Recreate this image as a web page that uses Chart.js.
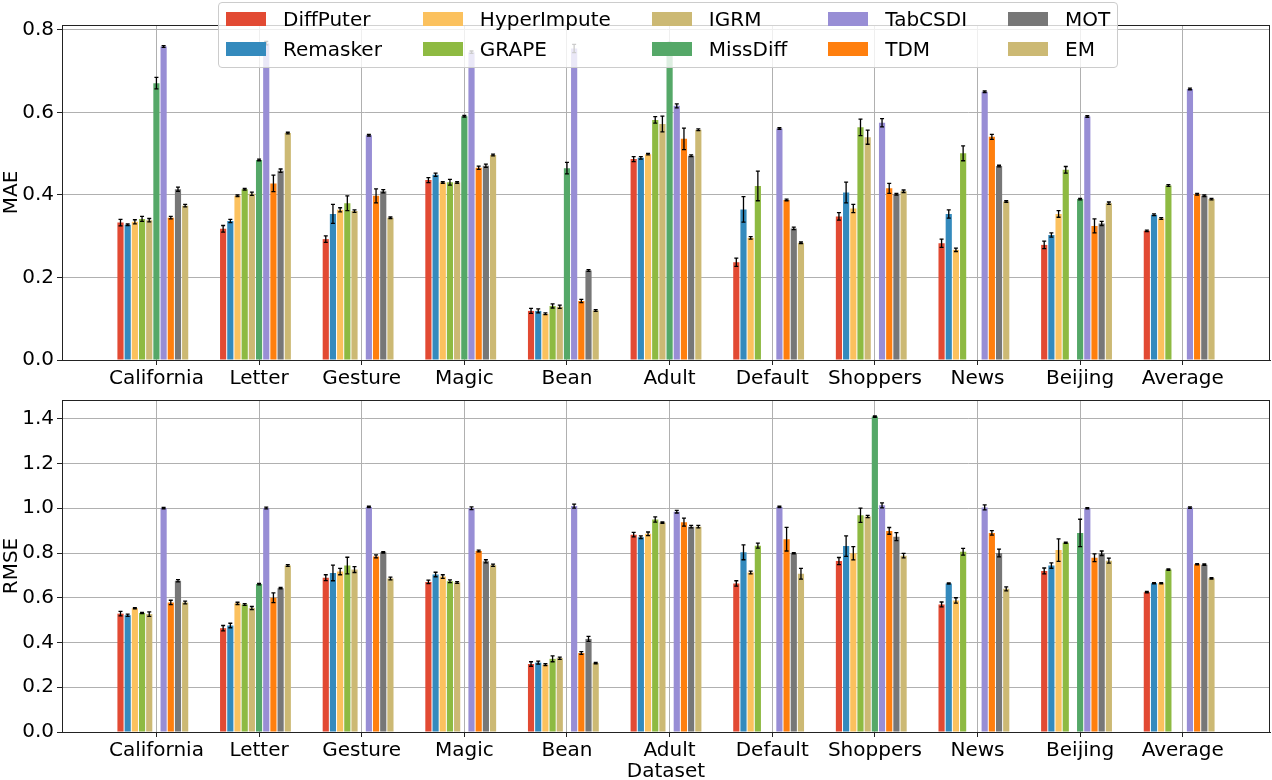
<!DOCTYPE html>
<html lang="en">
<head>
<meta charset="UTF-8">
<title>MAE / RMSE by dataset</title>
<script src="https://cdn.jsdelivr.net/npm/chart.js@4.4.1/dist/chart.umd.min.js"></script>
<style>
  body { margin: 0; background: #fff; }
  .page { position: relative; width: 1272px; height: 780px; overflow: hidden; }
  .panel { position: absolute; left: 0; width: 1272px; }
  #top { top: 0; height: 390px; }
  #bottom { top: 385px; height: 395px; }
  .legend {
    position: absolute; left: 218px; top: 2px; z-index: 2;
    display: grid; grid-template-rows: 24px 24px; grid-auto-flow: column;
    column-gap: 41px; row-gap: 6px; padding: 4px 7px 6px 7px;
    background: rgba(255, 255, 255, 0.8); border: 1px solid #cccccc; border-radius: 4px;
    font: 20px "DejaVu Sans", sans-serif; color: #000;
  }
  .legend-item { display: flex; align-items: center; white-space: nowrap; line-height: 24px; }
  .legend-swatch { width: 40px; height: 14px; margin-right: 17px; }
</style>
</head>
<body>
<div class="page">
  <div class="legend" id="legend"></div>
  <div class="panel" id="top"><canvas id="mae"></canvas></div>
  <div class="panel" id="bottom"><canvas id="rmse"></canvas></div>
</div>

<script>
  const datasets = ['California', 'Letter', 'Gesture', 'Magic', 'Bean', 'Adult', 'Default', 'Shoppers', 'News', 'Beijing', 'Average'];
  const methods = ['DiffPuter', 'Remasker', 'HyperImpute', 'GRAPE', 'IGRM', 'MissDiff', 'TabCSDI', 'TDM', 'MOT', 'EM'];
  const colors = ['#E24A33', '#348ABD', '#FBC15E', '#8EBA42', '#CCB974', '#55A868', '#988ED5', '#FF7F0E', '#777777', '#CCB974'];

  const maeTicks = [0, 0.2, 0.4, 0.6, 0.8];
  const rmseTicks = [0, 0.2, 0.4, 0.6, 0.8, 1.0, 1.2, 1.4];

  // MAE, one array per method (null = not reported)
  const maeDiffPuter   = [0.333, 0.318, 0.293, 0.436, 0.119, 0.487, 0.237, 0.348, 0.283, 0.279, 0.313];
  const maeRemasker    = [0.328, 0.337, 0.354, 0.449, 0.119, 0.490, 0.365, 0.406, 0.354, 0.303, 0.352];
  const maeHyperImpute = [0.335, 0.398, 0.364, 0.430, 0.112, 0.499, 0.296, 0.367, 0.267, 0.354, 0.343];
  const maeGRAPE       = [0.342, 0.414, 0.380, 0.431, 0.131, 0.582, 0.422, 0.564, 0.501, 0.461, 0.423];
  const maeIGRM        = [0.339, 0.403, 0.361, 0.430, 0.129, 0.572, null, 0.540, null, null, null];
  const maeMissDiff    = [0.671, 0.485, null, 0.591, 0.465, 0.760, null, null, null, 0.390, null];
  const maeTabCSDI     = [0.760, 0.768, 0.545, 0.746, 0.755, 0.616, 0.561, 0.575, 0.650, 0.590, 0.657];
  const maeTDM         = [0.345, 0.428, 0.398, 0.466, 0.143, 0.536, 0.388, 0.416, 0.541, 0.325, 0.402];
  const maeMOT         = [0.414, 0.459, 0.409, 0.471, 0.217, 0.495, 0.319, 0.402, 0.470, 0.331, 0.398];
  const maeEM          = [0.374, 0.550, 0.345, 0.497, 0.120, 0.558, 0.284, 0.409, 0.384, 0.380, 0.390];

  // MAE std (error bar half length)
  const maeErrDiffPuter   = [0.008, 0.008, 0.008, 0.006, 0.006, 0.006, 0.010, 0.009, 0.010, 0.009, 0.002];
  const maeErrRemasker    = [0.002, 0.004, 0.023, 0.004, 0.005, 0.003, 0.031, 0.025, 0.010, 0.005, 0.002];
  const maeErrHyperImpute = [0.005, 0.002, 0.005, 0.002, 0.002, 0.002, 0.003, 0.010, 0.004, 0.008, 0.002];
  const maeErrGRAPE       = [0.006, 0.002, 0.018, 0.007, 0.005, 0.008, 0.036, 0.020, 0.018, 0.008, 0.002];
  const maeErrIGRM        = [0.004, 0.004, 0.003, 0.002, 0.004, 0.019, null, 0.017, null, null, null];
  const maeErrMissDiff    = [0.014, 0.002, null, 0.002, 0.014, 0.010, null, null, null, 0.002, null];
  const maeErrTabCSDI     = [0.002, 0.004, 0.002, 0.003, 0.010, 0.005, 0.002, 0.010, 0.002, 0.002, 0.002];
  const maeErrTDM         = [0.003, 0.020, 0.017, 0.004, 0.004, 0.026, 0.002, 0.012, 0.006, 0.017, 0.002];
  const maeErrMOT         = [0.005, 0.004, 0.004, 0.004, 0.002, 0.002, 0.003, 0.002, 0.002, 0.005, 0.002];
  const maeErrEM          = [0.003, 0.002, 0.002, 0.002, 0.002, 0.002, 0.002, 0.003, 0.002, 0.003, 0.002];

  // RMSE
  const rmseDiffPuter   = [0.529, 0.464, 0.690, 0.671, 0.304, 0.882, 0.664, 0.764, 0.570, 0.720, 0.625];
  const rmseRemasker    = [0.522, 0.476, 0.711, 0.704, 0.310, 0.871, 0.803, 0.831, 0.664, 0.744, 0.665];
  const rmseHyperImpute = [0.553, 0.575, 0.717, 0.695, 0.301, 0.886, 0.713, 0.799, 0.588, 0.813, 0.665];
  const rmseGRAPE       = [0.532, 0.570, 0.744, 0.674, 0.327, 0.950, 0.833, 0.969, 0.806, 0.846, 0.726];
  const rmseIGRM        = [0.527, 0.554, 0.726, 0.668, 0.330, 0.936, null, 0.963, null, null, null];
  const rmseMissDiff    = [null, 0.661, null, null, null, null, null, 1.410, null, 0.890, null];
  const rmseTabCSDI     = [1.001, 1.001, 1.006, 1.000, 1.010, 0.985, 1.006, 1.013, 1.004, 1.000, 1.003];
  const rmseTDM         = [0.579, 0.600, 0.785, 0.809, 0.353, 0.938, 0.862, 0.899, 0.890, 0.779, 0.750];
  const rmseMOT         = [0.676, 0.643, 0.803, 0.763, 0.416, 0.918, 0.799, 0.873, 0.800, 0.799, 0.748];
  const rmseEM          = [0.579, 0.744, 0.686, 0.745, 0.308, 0.918, 0.707, 0.788, 0.640, 0.766, 0.687];

  const rmseErrDiffPuter   = [0.010, 0.012, 0.013, 0.008, 0.010, 0.010, 0.012, 0.016, 0.011, 0.013, 0.003];
  const rmseErrRemasker    = [0.005, 0.010, 0.035, 0.010, 0.007, 0.006, 0.033, 0.046, 0.003, 0.012, 0.003];
  const rmseErrHyperImpute = [0.003, 0.005, 0.014, 0.008, 0.004, 0.008, 0.006, 0.030, 0.012, 0.050, 0.003];
  const rmseErrGRAPE       = [0.003, 0.004, 0.037, 0.006, 0.013, 0.012, 0.011, 0.032, 0.015, 0.003, 0.003];
  const rmseErrIGRM        = [0.010, 0.007, 0.013, 0.004, 0.005, 0.003, null, 0.005, null, null, null];
  const rmseErrMissDiff    = [null, 0.003, null, null, null, null, null, 0.003, null, 0.061, null];
  const rmseErrTabCSDI     = [0.003, 0.004, 0.003, 0.006, 0.009, 0.006, 0.003, 0.011, 0.011, 0.003, 0.003];
  const rmseErrTDM         = [0.010, 0.022, 0.007, 0.004, 0.006, 0.018, 0.053, 0.015, 0.010, 0.017, 0.003];
  const rmseErrMOT         = [0.005, 0.003, 0.003, 0.007, 0.011, 0.006, 0.003, 0.018, 0.017, 0.010, 0.003];
  const rmseErrEM          = [0.006, 0.004, 0.006, 0.005, 0.003, 0.006, 0.024, 0.010, 0.009, 0.011, 0.003];

  const maeValues = [maeDiffPuter, maeRemasker, maeHyperImpute, maeGRAPE, maeIGRM, maeMissDiff, maeTabCSDI, maeTDM, maeMOT, maeEM];
  const maeErrors = [maeErrDiffPuter, maeErrRemasker, maeErrHyperImpute, maeErrGRAPE, maeErrIGRM, maeErrMissDiff, maeErrTabCSDI, maeErrTDM, maeErrMOT, maeErrEM];
  const rmseValues = [rmseDiffPuter, rmseRemasker, rmseHyperImpute, rmseGRAPE, rmseIGRM, rmseMissDiff, rmseTabCSDI, rmseTDM, rmseMOT, rmseEM];
  const rmseErrors = [rmseErrDiffPuter, rmseErrRemasker, rmseErrHyperImpute, rmseErrGRAPE, rmseErrIGRM, rmseErrMissDiff, rmseErrTabCSDI, rmseErrTDM, rmseErrMOT, rmseErrEM];

  const barStep = 0.07; // bar i sits at dataset index + (i - 5) * barStep

  // legend, column-major like the original
  const legend = document.getElementById('legend');
  methods.forEach((m, i) => {
    const item = document.createElement('div');
    item.className = 'legend-item';
    item.innerHTML = `<span class="legend-swatch" style="background:${colors[i]}"></span><span>${m}</span>`;
    legend.appendChild(item);
  });

  const errorBars = {
    id: 'errorBars',
    afterDatasetsDraw(chart) {
      const ctx = chart.ctx;
      const yScale = chart.scales.y;
      ctx.save();
      ctx.strokeStyle = '#000';
      ctx.lineWidth = 1.3;
      chart.data.datasets.forEach((ds, i) => {
        chart.getDatasetMeta(i).data.forEach((bar, j) => {
          const v = ds.data[j].y;
          const e = ds.errors[j];
          if (v == null || e == null) return;
          const y1 = yScale.getPixelForValue(v - e);
          const y2 = yScale.getPixelForValue(v + e);
          ctx.beginPath();
          ctx.moveTo(bar.x, y1); ctx.lineTo(bar.x, y2);
          ctx.moveTo(bar.x - 2, y1); ctx.lineTo(bar.x + 2, y1);
          ctx.moveTo(bar.x - 2, y2); ctx.lineTo(bar.x + 2, y2);
          ctx.stroke();
        });
      });
      ctx.restore();
    }
  };

  const frame = {
    id: 'frame',
    afterDraw(chart) {
      const { left, top, right, bottom } = chart.chartArea;
      const ctx = chart.ctx;
      ctx.save();
      ctx.strokeStyle = '#222';
      ctx.lineWidth = 1;
      ctx.strokeRect(Math.round(left) + 0.5, Math.round(top) + 0.5, Math.round(right - left) - 1, Math.round(bottom - top));
      ctx.restore();
    }
  };

  function drawchart(canvasId, values, errors, yTicks, yMax, yTitle, xTitle, padTop, xHeight) {
    const config = {
      type: 'bar',
      data: {
        datasets: methods.map((m, i) => ({
          label: m,
          data: datasets.map((d, j) => ({ x: j + (i - 5) * barStep, y: values[i][j] })),
          errors: errors[i],
          backgroundColor: colors[i],
          borderWidth: 0,
          grouped: false,
          barPercentage: 0.86,
          categoryPercentage: 1
        }))
      },
      options: {
        responsive: true,
        maintainAspectRatio: false,
        animation: false,
        layout: { padding: { top: padTop, right: 2, left: 0, bottom: 0 } },
        plugins: {
          legend: { display: false },
          tooltip: { enabled: false }
        },
        scales: {
          x: {
            type: 'linear',
            min: -0.92,
            max: 10.85,
            offset: false,
            afterBuildTicks: (axis) => { axis.ticks = datasets.map((d, j) => ({ value: j })); },
            afterFit: (axis) => { axis.height = xHeight; },
            ticks: {
              callback: (v) => datasets[v],
              maxRotation: 0,
              autoSkip: false,
              padding: 2
            },
            grid: { color: '#b0b0b0', lineWidth: 1, offset: false, tickColor: '#222', tickLength: 5 },
            border: { color: '#222', width: 1 },
            title: { display: !!xTitle, text: xTitle, padding: { top: 0, bottom: -4 } }
          },
          y: {
            min: 0,
            max: yMax,
            afterBuildTicks: (axis) => { axis.ticks = yTicks.map((v) => ({ value: v })); },
            afterFit: (axis) => { axis.width = 62; },
            ticks: {
              callback: (v) => v.toFixed(1),
              padding: 3
            },
            grid: { color: '#b0b0b0', lineWidth: 1, tickColor: '#222', tickLength: 5 },
            border: { color: '#222', width: 1 },
            title: { display: true, text: yTitle, padding: 0 }
          }
        }
      },
      plugins: [errorBars, frame]
    };
    return new Chart(document.getElementById(canvasId), config);
  }

  Chart.defaults.font.family = '"DejaVu Sans", sans-serif';
  Chart.defaults.font.size = 20;
  Chart.defaults.color = '#000';

  drawchart('mae', maeValues, maeErrors, maeTicks, 0.812, 'MAE', '', 25, 30);
  drawchart('rmse', rmseValues, rmseErrors, rmseTicks, 1.484, 'RMSE', 'Dataset', 13, 48);
</script>
</body>
</html>
